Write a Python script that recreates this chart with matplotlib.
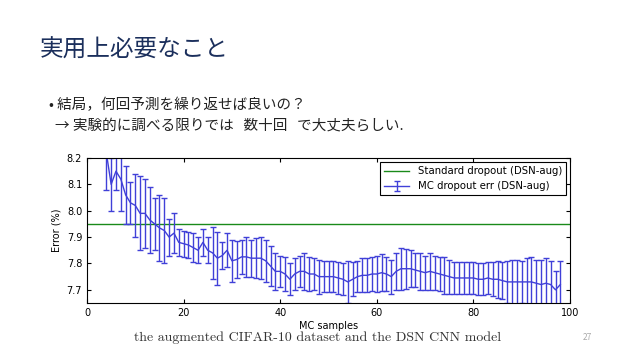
import numpy as np
import matplotlib
matplotlib.use("Agg")
from matplotlib import pyplot as plt

plt.rcParams['font.family'] = ['Noto Sans CJK JP', 'DejaVu Sans']

# MC dropout test error (DSN-aug)
samples = list(range(4, 99))
mc_err = [8.22, 8.10, 8.15, 8.12, 8.06, 8.03, 8.02,
          7.99, 7.99, 7.965, 7.95, 7.935, 7.925, 7.90, 7.915, 7.88, 7.875,
          7.87, 7.86, 7.85, 7.88, 7.85, 7.84, 7.82, 7.83, 7.85, 7.81,
          7.815, 7.825, 7.825, 7.82, 7.82, 7.82, 7.81, 7.79, 7.77, 7.77,
          7.76, 7.74, 7.76, 7.77, 7.77, 7.76, 7.76, 7.75, 7.75, 7.75,
          7.75, 7.745, 7.74, 7.73, 7.74, 7.75, 7.755, 7.755, 7.76, 7.76,
          7.765, 7.76, 7.75, 7.77, 7.78, 7.78, 7.78, 7.775, 7.77, 7.765,
          7.77, 7.765, 7.76, 7.755, 7.75, 7.745, 7.745, 7.745, 7.745, 7.745,
          7.74, 7.74, 7.745, 7.74, 7.74, 7.735, 7.73, 7.73, 7.73, 7.73,
          7.73, 7.73, 7.725, 7.72, 7.725, 7.72, 7.70, 7.72]
mc_std = [0.14, 0.10, 0.07, 0.12, 0.11, 0.08, 0.12,
          0.14, 0.13, 0.125, 0.10, 0.125, 0.125, 0.07, 0.075, 0.05, 0.05,
          0.05, 0.055, 0.05, 0.05, 0.05, 0.10, 0.10, 0.05, 0.065, 0.08,
          0.07, 0.065, 0.075, 0.07, 0.075, 0.08, 0.08, 0.075, 0.07, 0.06,
          0.065, 0.06, 0.06, 0.06, 0.07, 0.065, 0.06, 0.065, 0.06, 0.06,
          0.06, 0.06, 0.06, 0.08, 0.065, 0.06, 0.065, 0.065, 0.065, 0.07,
          0.07, 0.065, 0.065, 0.07, 0.08, 0.075, 0.07, 0.065, 0.07, 0.065,
          0.07, 0.065, 0.065, 0.07, 0.065, 0.06, 0.06, 0.06, 0.06, 0.06,
          0.06, 0.06, 0.06, 0.065, 0.07, 0.07, 0.08, 0.085, 0.085, 0.08,
          0.09, 0.095, 0.09, 0.095, 0.095, 0.09, 0.07, 0.09]
std_dropout = 7.95

title = "実用上必要なこと"
line1 = "• 結局，何回予測を繰り返せば良いの？"
line2 = "→ 実験的に調べる限りでは   数十回   で大丈夫らしい."
caption = "the augmented CIFAR-10 dataset and the DSN CNN model"
page = "27"

fig = plt.figure(figsize=(6.38, 3.59), dpi=100)
fig.patch.set_facecolor('white')

W, H = 638.0, 359.0
fig.text(40 / W, 1 - 50 / H, title, fontsize=17, color='#1b2f5c', va='center', ha='left')
fig.text(49 / W, 1 - 105 / H, line1, fontsize=10.5, color='#222222', va='center', ha='left')
fig.text(55 / W, 1 - 125 / H, line2, fontsize=10.5, color='#222222', va='center', ha='left')
fig.text(318 / W, 1 - 338 / H, caption, fontsize=10, color='#333333', va='center', ha='center',
         family='cmr10')
fig.text(587 / W, 1 - 338 / H, page, fontsize=6, color='#aaaaaa', va='center', ha='center')

ax = fig.add_axes([87 / W, 1 - 303 / H, (570 - 87) / W, (303 - 158) / H])
ax.axhline(std_dropout, color='#1a8a1a', lw=1, label='Standard dropout (DSN-aug)')
ax.errorbar(samples, mc_err, yerr=mc_std, color='#4040d8', lw=1, elinewidth=1,
            capsize=2.5, capthick=1, label='MC dropout err (DSN-aug)')

ax.set_xlim(0, 100)
ax.set_ylim(7.65, 8.2)
ax.set_xticks(np.arange(0, 101, 20))
ax.set_yticks([7.7, 7.8, 7.9, 8.0, 8.1, 8.2])
ax.tick_params(direction='in', top=True, right=True, labelsize=7, length=3)
for lab in ax.get_xticklabels() + ax.get_yticklabels():
    lab.set_family('DejaVu Sans')
ax.set_xlabel('MC samples', fontsize=7, labelpad=2, family='DejaVu Sans')
ax.set_ylabel('Error (%)', fontsize=7, labelpad=4, family='DejaVu Sans')
for s in ax.spines.values():
    s.set_linewidth(0.8)

leg = ax.legend(loc='upper right', fancybox=False, framealpha=1,
                edgecolor='black', borderaxespad=0.4, handlelength=2.5,
                prop={'family': 'DejaVu Sans', 'size': 7.3})
leg.get_frame().set_linewidth(0.8)

fig.savefig("out.png", dpi=100)
